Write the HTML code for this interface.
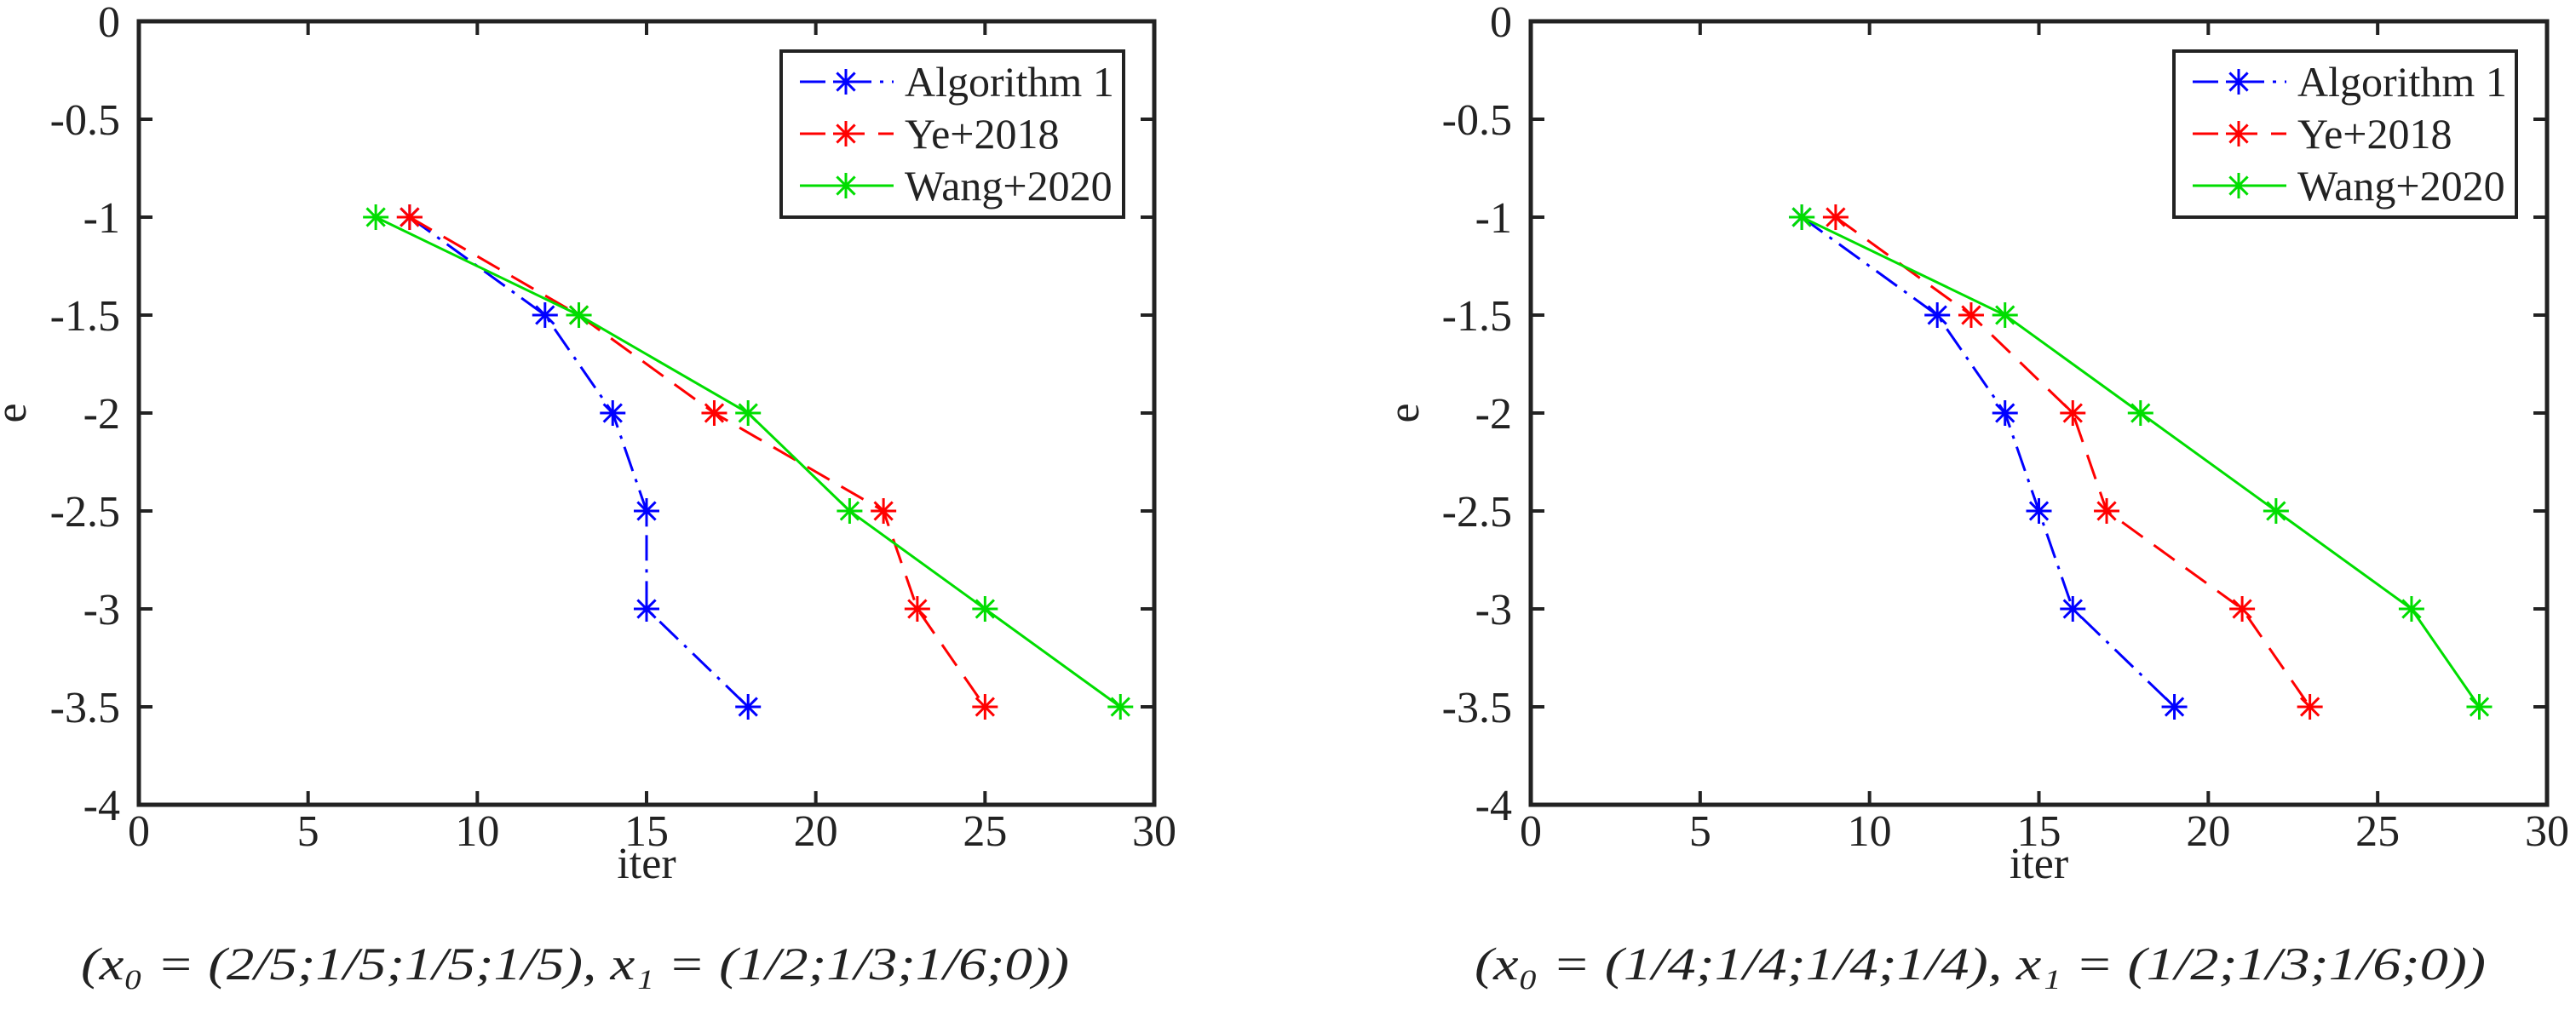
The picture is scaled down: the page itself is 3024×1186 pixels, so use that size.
<!DOCTYPE html>
<html><head><meta charset="utf-8"><style>
html,body{margin:0;padding:0;background:#fff;width:3024px;height:1186px;overflow:hidden}
svg{display:block}
text{font-family:"Liberation Serif",serif;fill:#222}
</style></head><body>
<svg id="fig" width="3024" height="1186" viewBox="0 0 3024 1186" xmlns="http://www.w3.org/2000/svg"></svg>
<script>
const xTicks = [0,5,10,15,20,25,30];
const yTicks = [0,-0.5,-1,-1.5,-2,-2.5,-3,-3.5,-4];
const yLabels = ['0','-0.5','-1','-1.5','-2','-2.5','-3','-3.5','-4'];
const seriesNames = ['Algorithm 1','Ye+2018','Wang+2020'];
const leftY = [-1,-1.5,-2,-2.5,-3,-3.5];
const leftAlg = [8,12,14,15,15,18];
const leftYeX = [8,13,17,22,23,25];
const leftWang = [7,13,18,21,25,29];
const rightAlg = [8,12,14,15,16,19];
const rightYe = [9,13,16,17,21,23];
const rightWang = [8,14,18,22,26,28];
const captions = ['(x₀ = (2/5;1/5;1/5;1/5), x₁ = (1/2;1/3;1/6;0))','(x₀ = (1/4;1/4;1/4;1/4), x₁ = (1/2;1/3;1/6;0))'];

const NS='http://www.w3.org/2000/svg';
const svg=document.getElementById('fig');
function mk(tag,attrs,parent){const e=document.createElementNS(NS,tag);for(const k in attrs)e.setAttribute(k,attrs[k]);(parent||svg).appendChild(e);return e;}
const styles=[{c:'#0000ff',d:'30 10 4 10'},{c:'#ff0000',d:'30 16'},{c:'#00dd00',d:''}];

function star(g,x,y,c){
  const r=15;
  for(let i=0;i<4;i++){const a=i*Math.PI/4;
    const l=mk('line',{x1:x-r*Math.sin(a),y1:y-r*Math.cos(a),x2:x+r*Math.sin(a),y2:y+r*Math.cos(a),stroke:c,'stroke-width':3},g);
    
    }
}

function panel(L,R,T,B,series,caption,capX,capW,ylabX,id){
  const g=mk('g',{});
  
  
  const sx=v=>L+(v-0)/(30-0)*(R-L);
  const sy=v=>T+(0-v)/(0-(-4))*(B-T);
  series.forEach((s,i)=>{
    const pts=s.x.map((xv,j)=>sx(xv)+','+sy(leftY[j])).join(' ');
    const pl=mk('polyline',{points:pts,fill:'none',stroke:styles[i].c,'stroke-width':3,'stroke-dasharray':styles[i].d},g);
    
    
    s.x.forEach((xv,j)=>star(g,sx(xv),sy(leftY[j]),styles[i].c));
  });
  const box=mk('rect',{x:L,y:T,width:R-L,height:B-T,fill:'none',stroke:'#222','stroke-width':5},g);
  
  
  xTicks.forEach(v=>{
    const x=sx(v);
    mk('line',{x1:x,y1:B,x2:x,y2:B-16,stroke:'#222','stroke-width':4},g);
    mk('line',{x1:x,y1:T,x2:x,y2:T+16,stroke:'#222','stroke-width':4},g);
    const t=mk('text',{x:x,y:B+48,'text-anchor':'middle','font-size':52},g);
    t.textContent=v;
    
    
  });
  yTicks.forEach((v,i)=>{
    const y=sy(v);
    mk('line',{x1:L,y1:y,x2:L+16,y2:y,stroke:'#222','stroke-width':4},g);
    mk('line',{x1:R,y1:y,x2:R-16,y2:y,stroke:'#222','stroke-width':4},g);
    const t=mk('text',{x:L-22,y:y+18,'text-anchor':'end','font-size':52},g);
    t.textContent=yLabels[i];
    
    
  });
  const xl=mk('text',{x:(L+R)/2,y:B+86,'text-anchor':'middle','font-size':52},g);
  xl.textContent='iter';
  
  
  const yl=mk('text',{x:0,y:0,'text-anchor':'middle','font-size':52,transform:'translate('+ylabX+','+sy(-2)+') rotate(-90)'},g);
  yl.textContent='e';
  
  
  const lx=R-438, ly=60, lw=402, lh=195;
  const lg=mk('g',{},g);
  
  
  mk('rect',{x:lx,y:ly,width:lw,height:lh,fill:'#fff',stroke:'#222','stroke-width':4},lg);
  seriesNames.forEach((n,i)=>{
    const y=ly+36+i*61;
    const e=mk('g',{},lg);
    
    
    mk('line',{x1:lx+22,y1:y,x2:lx+132,y2:y,stroke:styles[i].c,'stroke-width':3,'stroke-dasharray':styles[i].d},e);
    star(e,lx+76,y,styles[i].c);
    const t=mk('text',{x:lx+145,y:y+17,'font-size':50},e);
    t.textContent=n;
  });
  const cap=mk('text',{x:capX,y:1150,'font-size':54,textLength:capW,lengthAdjust:'spacingAndGlyphs','font-style':'italic'},g);
  cap.textContent=caption;
  
  
}
panel(163,1355,25,945,[{x:leftAlg},{x:leftYeX},{x:leftWang}],captions[0],95,1160,30,'left-chart');
panel(1797,2990,25,945,[{x:rightAlg},{x:rightYe},{x:rightWang}],captions[1],1731,1187,1665,'right-chart');
</script>
</body></html>
